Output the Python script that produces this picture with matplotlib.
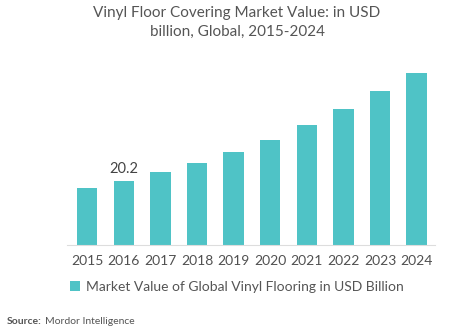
import matplotlib
matplotlib.use("Agg")
import matplotlib.pyplot as plt

years = ["2015", "2016", "2017", "2018", "2019", "2020", "2021", "2022", "2023", "2024"]
values = [18.1, 20.2, 22.9, 25.9, 29.3, 33.2, 37.8, 42.8, 48.6, 54.4]
series_name = "Market Value of Global Vinyl Flooring in USD Billion"
title = "Vinyl Floor Covering Market Value: in USD\nbillion, Global, 2015-2024"

plt.rcParams["font.family"] = ["Lato", "DejaVu Sans"]
bar_color = "#4FC3C6"
text_color = "#555555"

fig = plt.figure(figsize=(4.74, 3.35), dpi=100)
W, H = 474, 335
# axes placed in pixel terms
ax = fig.add_axes([67 / W, 1 - 245 / H, (435 - 67) / W, (245 - 55) / H])

x = list(range(len(years)))
bars = ax.bar(x, values, width=0.56, color=bar_color, label=series_name)
ax.set_xlim(-0.55, 9.5)
ax.set_ylim(0, 60)

# only the 2016 value is labelled
ax.text(1, values[1] + 1.5, "20.2", ha="center", va="bottom", fontsize=10.5,
        color="#444444")

ax.set_xticks(x)
ax.set_xticklabels(years, fontsize=10, color="#505050")
ax.tick_params(axis="x", length=0, pad=7)
ax.set_yticks([])
for side in ["top", "left", "right"]:
    ax.spines[side].set_visible(False)
ax.spines["bottom"].set_color("#dddddd")
ax.spines["bottom"].set_linewidth(0.8)

fig.text(0.5, 1 - 22 / H, title, ha="center", va="center", fontsize=11,
         color=text_color, linespacing=1.45)

leg = fig.legend(handles=[bars], labels=[series_name], loc="center",
                 bbox_to_anchor=(0.5, 1 - 287 / H), frameon=False, fontsize=10,
                 handlelength=0.7, handleheight=0.7, handletextpad=0.4)
for t in leg.get_texts():
    t.set_color(text_color)

fig.text(7 / W, 1 - 322 / H, "Source:", fontsize=7.5, fontweight="bold",
         color=text_color, va="center", ha="left")
fig.text(45 / W, 1 - 322 / H, "Mordor Intelligence", fontsize=7.5,
         color=text_color, va="center", ha="left")

fig.savefig("out.png", dpi=100, facecolor="white")
